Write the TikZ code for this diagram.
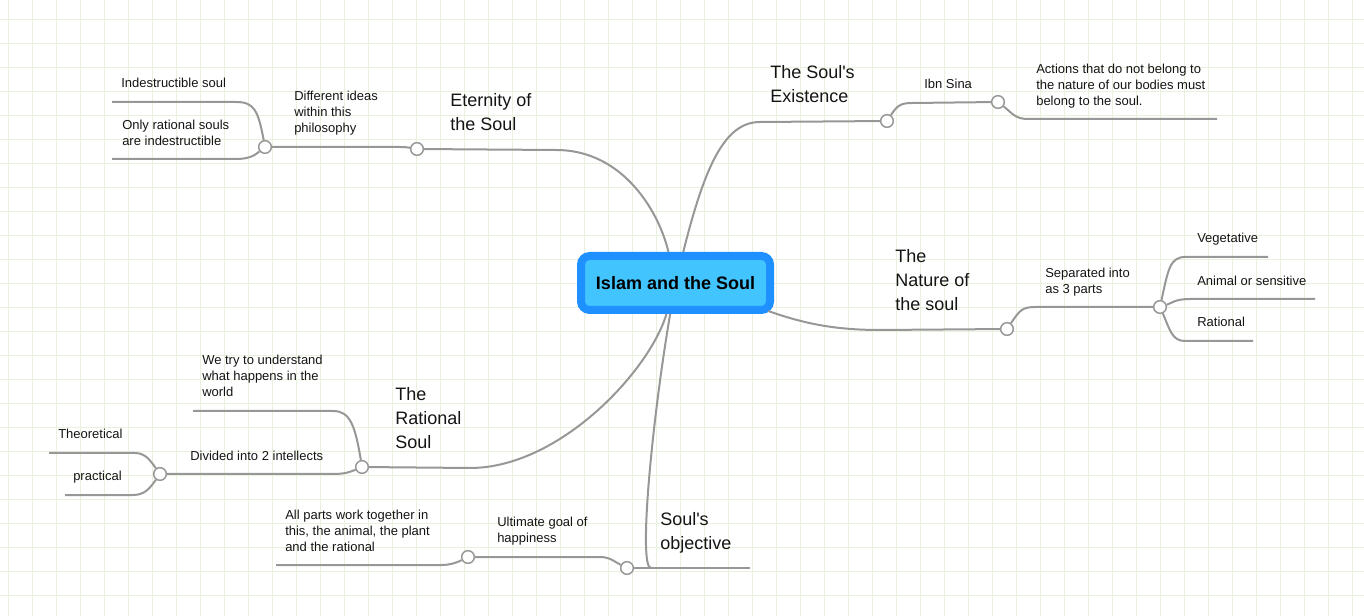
\documentclass[tikz,border=0pt]{standalone}
\usepackage{fontspec}
\setmainfont{Liberation Sans}
\usepackage{xcolor}
\usepackage{tikz}
\definecolor{mapgrid}{HTML}{E8F0DE}
\definecolor{mapline}{HTML}{979797}
\definecolor{rootedge}{HTML}{1E90FF}
\definecolor{rootfill}{HTML}{42C5FF}
\definecolor{mapink}{HTML}{141414}
\tikzset{
  root/.style  ={rounded corners=6.5pt,draw=rootedge,fill=rootfill,line width=6pt,minimum width=141.75pt,minimum height=40.5pt,inner sep=0pt,font=\fontsize{13.5}{16}\selectfont\bfseries,text=black},
  topic/.style ={anchor=north west,inner sep=0pt,align=left,font=\fontsize{13.5}{18}\selectfont,text=mapink},
  leaf/.style  ={topic,font=\fontsize{9.75}{12}\selectfont},
  knob/.style  ={circle,draw=mapline,fill=white,line width=1.1pt,minimum size=9.5pt,inner sep=0pt},
  link/.style  ={draw=mapline,line width=1.5pt},
  gridline/.style={draw=mapgrid,line width=0.65pt},
}

\begin{document}
\begin{tikzpicture}[x=0.75pt,y=-0.75pt]
  \useasboundingbox (0,0) rectangle (1364,616);
  \foreach \gx in {8,32,...,1364} \draw[gridline] (\gx,0) -- (\gx,616);
  \foreach \gy in {19,43,...,616} \draw[gridline] (0,\gy) -- (1364,\gy);

  \node[root] (root) at (675.5,283) {Islam and the Soul};

  % main topics
  \node[topic] (tEter)  at (450,93)  {Eternity of\\the Soul};
  \node[topic] (tExist) at (770,65)  {The Soul\textquotesingle s\\Existence};
  \node[topic] (tNat)   at (895,249) {The\\Nature of\\the soul};
  \node[topic] (tRat)   at (395,387) {The\\Rational\\Soul};
  \node[topic] (tObj)   at (660,512) {Soul\textquotesingle s\\objective};

  % sub topics
  \node[leaf] (tDiff)  at (294,91)   {Different ideas\\within this\\philosophy};
  \node[leaf] (tIndes) at (121,78)   {Indestructible soul};
  \node[leaf] (tOnly)  at (122,120)  {Only rational souls\\are indestructible};
  \node[leaf] (tIbn)   at (924,79)   {Ibn Sina};
  \node[leaf] (tAct)   at (1036,64)  {Actions that do not belong to\\the nature of our bodies must\\belong to the soul.};
  \node[leaf] (tSep)   at (1045,268) {Separated into\\as 3 parts};
  \node[leaf] (tVeg)   at (1197,233) {Vegetative};
  \node[leaf] (tAni)   at (1197,276) {Animal or sensitive};
  \node[leaf] (tRatl)  at (1197,317) {Rational};
  \node[leaf] (tTry)   at (202,355)  {We try to understand\\what happens in the\\world};
  \node[leaf] (tDiv)   at (190,451)  {Divided into 2 intellects};
  \node[leaf] (tTheo)  at (58,429)   {Theoretical};
  \node[leaf] (tPrac)  at (73,471)   {practical};
  \node[leaf] (tUlt)   at (497,517)  {Ultimate goal of\\happiness};
  \node[leaf] (tAll)   at (285,510)  {All parts work together in\\this, the animal, the plant\\and the rational};

  % fold knobs
  \node[knob] (ket)  at (417,149) {};
  \node[knob] (kdiff) at (265,147) {};
  \node[knob] (kex)  at (887,121) {};
  \node[knob] (kibn) at (998,102) {};
  \node[knob] (knat) at (1007,329) {};
  \node[knob] (ksep) at (1160,307) {};
  \node[knob] (krat) at (362,467) {};
  \node[knob] (kdiv) at (160,474) {};
  \node[knob] (kobj) at (627,568) {};
  \node[knob] (kult) at (468,557) {};

  \coordinate (eterEnd) at (556,150);
  \coordinate (existEnd) at (760,122);
  \coordinate (natStart) at (768,311);
  \coordinate (natEnd) at (880,330);
  \coordinate (ratEnd) at (470,468);
  \coordinate (objMid) at (651,568);
  \coordinate (objEnd) at (750,568);

  % root links
  \draw[link] (ket) -- (eterEnd) .. controls (625,150) and (660,215) .. (root);
  \draw[link] (root) .. controls (705,165) and (725,122) .. (existEnd) -- (kex);
  \draw[link] (natStart) .. controls (800,322) and (830,330) .. (natEnd) -- (knat);
  \draw[link] (root) .. controls (650,370) and (560,468) .. (ratEnd) -- (krat);
  \draw[link] (root) .. controls (652,420) and (638,568) .. (objMid);
  \draw[link] (kobj) -- (objEnd);

  % eternity
  \coordinate (diffEnd) at (400,147);
  \coordinate (indesA) at (236,102);
  \coordinate (indesB) at (112,102);
  \coordinate (onlyA) at (236,159);
  \coordinate (onlyB) at (112,159);
  \draw[link] (kdiff) -- (diffEnd) to[out=0,in=170] (ket);
  \draw[link] (kdiff) .. controls (258,110) and (254,102) .. (indesA) -- (indesB);
  \draw[link] (kdiff) .. controls (255,155) and (250,159) .. (onlyA) -- (onlyB);

  % existence
  \coordinate (ibnA) at (912,103);
  \coordinate (actA) at (1028,119);
  \coordinate (actB) at (1217,119);
  \draw[link] (kex) .. controls (897,106) and (900,103) .. (ibnA) -- (kibn);
  \draw[link] (kibn) .. controls (1012,113) and (1015,119) .. (actA) -- (actB);

  % nature
  \coordinate (sepA) at (1036,307);
  \coordinate (vegA) at (1185,257);
  \coordinate (vegB) at (1268,257);
  \coordinate (aniA) at (1190,299);
  \coordinate (aniB) at (1315,299);
  \coordinate (ratlA) at (1185,341);
  \coordinate (ratlB) at (1253,341);
  \draw[link] (knat) .. controls (1020,310) and (1022,307) .. (sepA) -- (ksep);
  \draw[link] (ksep) .. controls (1168,270) and (1170,257) .. (vegA) -- (vegB);
  \draw[link] (ksep) .. controls (1172,303) and (1175,299) .. (aniA) -- (aniB);
  \draw[link] (ksep) .. controls (1170,330) and (1172,341) .. (ratlA) -- (ratlB);

  % rational soul
  \coordinate (tryA) at (333,411);
  \coordinate (tryB) at (193,411);
  \coordinate (divA) at (333,474);
  \coordinate (theoA) at (135,453);
  \coordinate (theoB) at (49,453);
  \coordinate (pracA) at (133,495);
  \coordinate (pracB) at (65,495);
  \draw[link] (krat) .. controls (355,425) and (350,411) .. (tryA) -- (tryB);
  \draw[link] (krat) .. controls (350,472) and (345,474) .. (divA) -- (kdiv);
  \draw[link] (kdiv) .. controls (150,460) and (145,453) .. (theoA) -- (theoB);
  \draw[link] (kdiv) .. controls (150,488) and (145,495) .. (pracA) -- (pracB);

  % objective
  \coordinate (ultA) at (600,557);
  \coordinate (allA) at (442,565);
  \coordinate (allB) at (276,565);
  \draw[link] (kobj) .. controls (615,562) and (610,557) .. (ultA) -- (kult);
  \draw[link] (kult) .. controls (460,561) and (452,565) .. (allA) -- (allB);
\end{tikzpicture}
\end{document}
